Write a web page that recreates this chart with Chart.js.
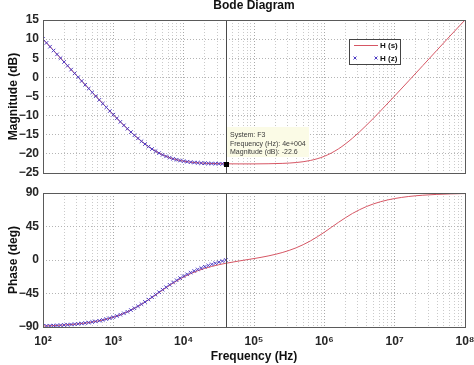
<!DOCTYPE html>
<html>
<head>
<meta charset="utf-8">
<script src="https://cdn.jsdelivr.net/npm/chart.js@4.4.1/dist/chart.umd.min.js"></script>
<style>
  html, body { margin: 0; padding: 0; background: #fff; }
  #wrap { position: relative; width: 474px; height: 365px; }
  #magChart { position: absolute; left: 0; top: 0; }
  #phaseChart { position: absolute; left: 0; top: 180px; }
</style>
</head>
<body>
<div id="wrap">
  <canvas id="magChart" width="474" height="180"></canvas>
  <canvas id="phaseChart" width="474" height="185"></canvas>
</div>
<script>
// H(s) - continuous response (red line)
const sFreq = [100, 158.5, 251.2, 398.1, 631, 1000, 1585, 2512, 3981, 6310, 10000, 15849, 25119, 39811, 63096,
  100000, 158489, 251189, 398107, 630957, 1e6, 1.585e6, 2.512e6, 3.981e6, 6.31e6, 1e7, 1.585e7, 2.512e7, 3.981e7, 6.31e7, 1e8];
const sMag = [10.02, 6.02, 2.03, -1.94, -5.89, -9.75, -13.43, -16.71, -19.29, -20.99, -21.91, -22.34, -22.52, -22.60, -22.62,
  -22.62, -22.58, -22.49, -22.26, -21.73, -20.63, -18.70, -15.90, -12.49, -8.75, -4.86, -0.90, 3.08, 7.08, 11.07, 15.0];
const sPhase = [-88.67, -87.89, -86.66, -84.71, -81.62, -76.87, -69.70, -59.60, -47.02, -34.0, -22.83, -14.48, -8.61, -4.41, -1.12,
  1.94, 5.40, 9.96, 16.41, 25.50, 37.32, 50.48, 62.54, 71.86, 78.32, 82.57, 85.31, 87.04, 88.13, 88.82, 89.26];

// H(z) - discrete response (x markers, up to Nyquist)
const zFreq = [100, 112.2, 125.9, 141.3, 158.5, 177.8, 199.5, 223.9, 251.2, 281.8, 316.2, 354.8, 398.1, 446.7, 501.2, 562.3,
  631, 707.9, 794.3, 891.3, 1000, 1122, 1259, 1413, 1585, 1778, 1995, 2239, 2512, 2818, 3162, 3548, 3981, 4467, 5012, 5623,
  6310, 7079, 7943, 8913, 10000, 11220, 12589, 14125, 15849, 17783, 19953, 22387, 25119, 28184, 31623, 35481, 39811];
const zMag = [10.02, 9.02, 8.02, 7.02, 6.02, 5.03, 4.03, 3.03, 2.03, 1.04, 0.05, -0.95, -1.94, -2.93, -3.92, -4.91,
  -5.89, -6.86, -7.83, -8.80, -9.75, -10.70, -11.63, -12.54, -13.43, -14.30, -15.13, -15.94, -16.71, -17.43, -18.10, -18.73,
  -19.29, -19.80, -20.25, -20.65, -20.99, -21.29, -21.53, -21.74, -21.91, -22.05, -22.17, -22.27, -22.34, -22.40, -22.45,
  -22.49, -22.52, -22.55, -22.57, -22.59, -22.60];
const zPhase = [-88.66, -88.49, -88.31, -88.10, -87.87, -87.61, -87.32, -86.99, -86.63, -86.22, -85.76, -85.24, -84.67, -84.02,
  -83.29, -82.49, -81.55, -80.54, -79.40, -78.15, -76.76, -75.20, -73.48, -71.59, -69.52, -67.25, -64.80, -62.14, -59.32,
  -56.33, -53.18, -49.93, -46.58, -43.22, -39.85, -36.54, -33.32, -30.18, -27.20, -24.37, -21.72, -19.24, -16.92, -14.74,
  -12.72, -10.84, -9.07, -7.40, -5.83, -4.32, -2.85, -1.42, 0.00];

// axes
const xDecades = [1e2, 1e3, 1e4, 1e5, 1e6, 1e7, 1e8];
const xLabels = ['10²', '10³', '10⁴', '10⁵', '10⁶', '10⁷', '10⁸'];
const magTicks = [-25, -20, -15, -10, -5, 0, 5, 10, 15];
const phaseTicks = [-90, -45, 0, 45, 90];

// data cursor
const cursorFreq = 40000;
const tipMag = -22.6;
const tipLines = ['System: F3', 'Frequency (Hz): 4e+004', 'Magnitude (dB): -22.6'];

const FONT = "'Liberation Sans', Arial, Helvetica, sans-serif";
Chart.defaults.font.family = FONT;
const RED = 'rgb(214, 86, 100)';
const BLUE = 'rgb(78, 60, 196)';

// all 1..9 x 10^n positions for the log grid
const gridTicks = [];
for (let d = 0; d < xDecades.length; d++) {
  for (let k = 1; k <= 9; k++) {
    const v = xDecades[d] * k;
    if (v <= 1e8) gridTicks.push(v);
  }
}

function pts(xs, ys) { return xs.map((x, i) => ({ x: x, y: ys[i] })); }
const fmt = v => (v < 0 ? '\u2212' + Math.abs(v) : String(v));

function xScale(withLabels) {
  return {
    type: 'logarithmic',
    min: 1e2, max: 1e8,
    afterBuildTicks: s => { s.ticks = gridTicks.map(v => ({ value: v })); },
    afterFit: s => { s.paddingLeft = 0; s.paddingRight = 0; if (withLabels) s.height = 38; },
    ticks: {
      display: withLabels, autoSkip: false, maxRotation: 0, minRotation: 0, padding: 7,
      color: '#262626', font: { size: 12, weight: 'bold' },
      callback: v => { const i = xDecades.indexOf(v); return i >= 0 ? xLabels[i] : ''; }
    },
    grid: {
      drawTicks: false, lineWidth: 1,
      color: c => (c.tick && xDecades.indexOf(c.tick.value) >= 0 ? '#a8a8a8' : '#cacaca')
    },
    border: { display: false, dash: [1, 2] },
    title: {
      display: withLabels, text: 'Frequency (Hz)', color: '#111',
      font: { size: 12, weight: 'bold' }, padding: { top: 0, bottom: 1 }
    }
  };
}

function yScale(ticks, label) {
  return {
    min: ticks[0], max: ticks[ticks.length - 1],
    afterBuildTicks: s => { s.ticks = ticks.map(v => ({ value: v })); },
    afterFit: s => { s.width = 43; s.paddingTop = 0; s.paddingBottom = 0; },
    ticks: { padding: 4, color: '#262626', font: { size: 12, weight: 'bold' }, callback: v => fmt(v) },
    grid: { drawTicks: false, lineWidth: 1, color: '#b4b4b4' },
    border: { display: false, dash: [1, 2] },
    title: {
      display: true, text: label, color: '#111',
      font: { size: 12, weight: 'bold' }, padding: { top: 6, bottom: 0 }
    }
  };
}

const framePlugin = {
  id: 'frame',
  afterDraw(chart) {
    const { ctx, chartArea: a } = chart;
    const x = Math.round(chart.scales.x.getPixelForValue(cursorFreq)) + 0.5;
    ctx.save();
    ctx.strokeStyle = '#4a4a4a';
    ctx.lineWidth = 1;
    ctx.beginPath();
    ctx.moveTo(x, a.top);
    ctx.lineTo(x, a.bottom);
    ctx.stroke();
    ctx.strokeStyle = '#5a5a5a';
    ctx.strokeRect(Math.round(a.left) + 0.5, Math.round(a.top) + 0.5,
      Math.round(a.right - a.left), Math.round(a.bottom - a.top));
    ctx.restore();
  }
};

const tipPlugin = {
  id: 'tipAndLegend',
  afterDraw(chart) {
    const { ctx } = chart;
    const px = chart.scales.x.getPixelForValue(cursorFreq);
    const py = chart.scales.y.getPixelForValue(tipMag);
    ctx.save();
    // data tip box
    ctx.fillStyle = '#fbfbe6';
    ctx.fillRect(px + 1, 127, 82, 30);
    ctx.fillStyle = '#3a3a3a';
    ctx.font = '7px ' + FONT;
    ctx.textBaseline = 'middle';
    ctx.textAlign = 'left';
    tipLines.forEach((t, i) => ctx.fillText(t, px + 4, 135 + i * 8.6));
    // marker square
    ctx.fillStyle = '#000';
    ctx.fillRect(Math.round(px) - 2, Math.round(py) - 2, 5, 5);

    // legend
    ctx.fillStyle = '#fff';
    ctx.fillRect(349, 39, 51, 25);
    ctx.strokeStyle = '#444';
    ctx.lineWidth = 1;
    ctx.strokeRect(349.5, 39.5, 51, 25);
    ctx.strokeStyle = RED;
    ctx.beginPath();
    ctx.moveTo(354, 45.5);
    ctx.lineTo(378, 45.5);
    ctx.stroke();
    ctx.strokeStyle = BLUE;
    [355, 376].forEach(cx => {
      ctx.beginPath();
      ctx.moveTo(cx - 1.5, 56.5); ctx.lineTo(cx + 1.5, 59.5);
      ctx.moveTo(cx + 1.5, 56.5); ctx.lineTo(cx - 1.5, 59.5);
      ctx.stroke();
    });
    ctx.fillStyle = '#111';
    ctx.font = 'bold 8px ' + FONT;
    ctx.fillText('H (s)', 380, 45.5);
    ctx.fillText('H (z)', 380, 58.5);
    ctx.restore();
  }
};

function datasets(sY, zY) {
  return [
    {
      label: 'H (z)', data: pts(zFreq, zY), showLine: false,
      pointStyle: 'crossRot', pointRadius: 2.5, pointBorderWidth: 1,
      pointBorderColor: BLUE, pointBackgroundColor: BLUE
    },
    {
      label: 'H (s)', data: pts(sFreq, sY), borderColor: RED, borderWidth: 1,
      pointRadius: 0, cubicInterpolationMode: 'monotone', fill: false
    }
  ];
}

new Chart(document.getElementById('magChart'), {
  type: 'line',
  data: { datasets: datasets(sMag, zMag) },
  options: {
    responsive: false, animation: false,
    layout: { padding: { top: 0, right: 9, bottom: 7, left: 0 } },
    plugins: {
      legend: { display: false }, tooltip: { enabled: false },
      title: {
        display: true, text: 'Bode Diagram', fullSize: false, color: '#111',
        font: { size: 12, weight: 'bold', lineHeight: 1 }, padding: { top: 0, bottom: 8 }
      }
    },
    scales: { x: xScale(false), y: yScale(magTicks, 'Magnitude (dB)') }
  },
  plugins: [framePlugin, tipPlugin]
});

new Chart(document.getElementById('phaseChart'), {
  type: 'line',
  data: { datasets: datasets(sPhase, zPhase) },
  options: {
    responsive: false, animation: false,
    layout: { padding: { top: 13, right: 9, bottom: 0, left: 0 } },
    plugins: { legend: { display: false }, tooltip: { enabled: false } },
    scales: { x: xScale(true), y: yScale(phaseTicks, 'Phase (deg)') }
  },
  plugins: [framePlugin]
});
</script>
</body>
</html>
